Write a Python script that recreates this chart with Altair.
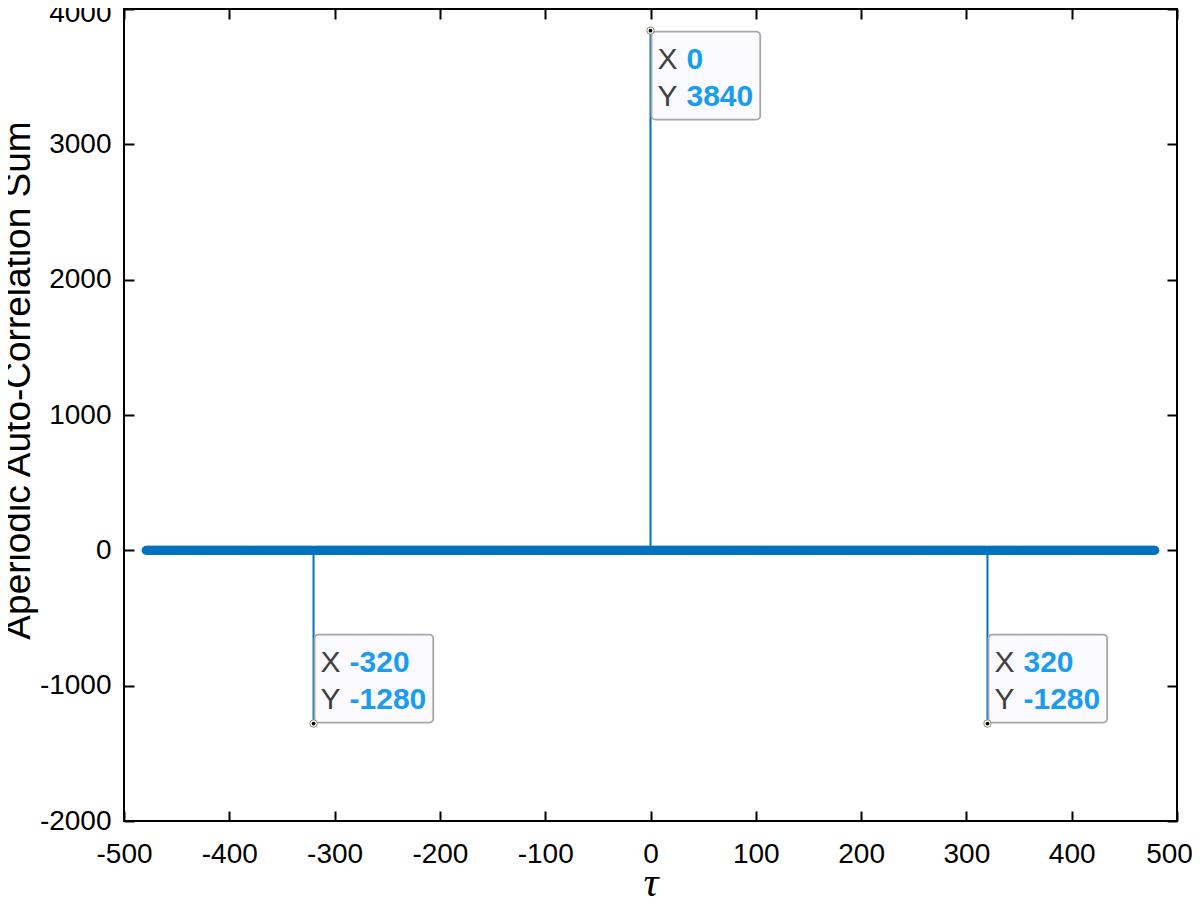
import altair as alt
import pandas as pd

# ---------------- data ----------------
lags = list(range(-479, 480))
tip_lags = [-320, 0, 320]
tip_values = [-1280, 3840, -1280]
peak = dict(zip(tip_lags, tip_values))
values = [peak.get(l, 0) for l in lags]

x_ticks = [-500, -400, -300, -200, -100, 0, 100, 200, 300, 400, 500]
y_ticks = [-2000, -1000, 0, 1000, 2000, 3000, 4000]

X_DOMAIN = [-500, 500]
Y_DOMAIN = [-2000, 4000]

# ---------------- layout / style ----------------
W, H = 1053, 812
BLUE = "#0072BD"
FONT = "Liberation Sans"
TIP_FONT_SIZE = 30
ux = (X_DOMAIN[1] - X_DOMAIN[0]) / W   # data units per pixel
uy = (Y_DOMAIN[1] - Y_DOMAIN[0]) / H

df = pd.DataFrame({"lag": lags, "value": values})


def text_width(s, size):
    w = 0.0
    for ch in s:
        w += 0.333 if ch == "-" else 0.556
    return w * size


boxes, labels, vals, marks = [], [], [], []
for lx, vy in zip(tip_lags, tip_values):
    down = vy > 0
    top_px = 1 if down else -89
    bot_px = top_px + 88
    xs, ys = str(lx), str(vy)
    wpx = 36 + max(text_width(xs, TIP_FONT_SIZE), text_width(ys, TIP_FONT_SIZE)) + 7
    boxes.append({"x1": lx + 1 * ux, "x2": lx + wpx * ux,
                  "y1": vy - top_px * uy, "y2": vy - bot_px * uy})
    r1 = vy - (top_px + 28) * uy
    r2 = vy - (top_px + 65) * uy
    labels.append({"x": lx + 7 * ux, "y": r1, "t": "X"})
    labels.append({"x": lx + 7 * ux, "y": r2, "t": "Y"})
    vals.append({"x": lx + 36 * ux, "y": r1, "t": xs})
    vals.append({"x": lx + 36 * ux, "y": r2, "t": ys})
    marks.append({"x": lx, "y": vy})

boxes_df = pd.DataFrame(boxes)
labels_df = pd.DataFrame(labels)
vals_df = pd.DataFrame(vals)
marks_df = pd.DataFrame(marks)

x_scale = alt.Scale(domain=X_DOMAIN, nice=False, zero=False)
y_scale = alt.Scale(domain=Y_DOMAIN, nice=False, zero=False)

common = dict(offset=-10, tickSize=10, tickWidth=2, tickColor="black",
              domain=False, grid=False, labelFont=FONT, labelFontSize=28,
              labelColor="black", labelExpr="'' + datum.value",
              labelFlush=False, labelOverlap=False)

x_axis_bottom = alt.Axis(
    orient="bottom", values=x_ticks, labelPadding=19,
    labelOffset={"condition": {"test": "datum.value == 500", "value": -8}, "value": 0},
    title="τ", titleFont="Liberation Serif", titleFontStyle="italic",
    titleFontWeight="normal", titleFontSize=42, titleColor="black",
    titlePadding=-6, **common)
y_axis_left = alt.Axis(
    orient="left", values=y_ticks, labelPadding=13,
    labelOffset={"condition": {"test": "datum.value == 4000", "value": 4}, "value": 0},
    title="Aperiodic Auto-Correlation Sum", titleFont=FONT,
    titleFontWeight="normal", titleFontSize=37, titleColor="black",
    titlePadding=2, titleY=371, **common)
x_axis_top = alt.Axis(orient="top", values=x_ticks, labels=False, title=None,
                      offset=-10, tickSize=10, tickWidth=2, tickColor="black",
                      domain=False, grid=False)
y_axis_right = alt.Axis(orient="right", values=y_ticks, labels=False, title=None,
                        offset=-10, tickSize=10, tickWidth=2, tickColor="black",
                        domain=False, grid=False)

stems = alt.Chart(df).mark_rule(color=BLUE, strokeWidth=2).encode(
    x=alt.X("lag:Q", scale=x_scale, axis=x_axis_bottom),
    y=alt.Y("value:Q", scale=y_scale, axis=y_axis_left),
    y2=alt.datum(0),
)

frame = alt.Chart(df).mark_point(opacity=0).encode(
    x=alt.X("lag:Q", scale=x_scale, axis=x_axis_top),
    y=alt.Y("value:Q", scale=y_scale, axis=y_axis_right),
)

dots = alt.Chart(df).transform_filter("datum.value == 0").mark_circle(
    size=80, color=BLUE, opacity=1).encode(
    x=alt.X("lag:Q", scale=x_scale, axis=None),
    y=alt.Y("value:Q", scale=y_scale, axis=None),
)

rects = alt.Chart(boxes_df).mark_rect(
    fill="#fbfbff", stroke="#a6a6a6", strokeWidth=1.8, cornerRadius=4).encode(
    x=alt.X("x1:Q", scale=x_scale, axis=None), x2="x2:Q",
    y=alt.Y("y1:Q", scale=y_scale, axis=None), y2="y2:Q",
)

tip_ring = alt.Chart(marks_df).mark_point(
    shape="circle", filled=True, fill="#ffffff", stroke="#8a8a70",
    strokeWidth=1, size=55, opacity=1).encode(
    x=alt.X("x:Q", scale=x_scale, axis=None),
    y=alt.Y("y:Q", scale=y_scale, axis=None),
)
tip_dot = alt.Chart(marks_df).mark_circle(size=14, color="black", opacity=1).encode(
    x=alt.X("x:Q", scale=x_scale, axis=None),
    y=alt.Y("y:Q", scale=y_scale, axis=None),
)

lab_text = alt.Chart(labels_df).mark_text(
    align="left", baseline="middle", font=FONT, fontSize=TIP_FONT_SIZE,
    color="#404040").encode(
    x=alt.X("x:Q", scale=x_scale, axis=None),
    y=alt.Y("y:Q", scale=y_scale, axis=None),
    text="t:N",
)
val_text = alt.Chart(vals_df).mark_text(
    align="left", baseline="middle", font=FONT, fontSize=TIP_FONT_SIZE,
    fontWeight="bold", color="#1a9cf0").encode(
    x=alt.X("x:Q", scale=x_scale, axis=None),
    y=alt.Y("y:Q", scale=y_scale, axis=None),
    text="t:N",
)

chart = alt.layer(
    stems, frame, dots, rects, tip_ring, tip_dot, lab_text, val_text
).resolve_axis(x="independent", y="independent").properties(
    width=W, height=H,
    autosize=alt.AutoSizeParams(type="none"),
    padding={"left": 116, "top": 1, "right": 15, "bottom": 76},
    background="white",
).configure_view(stroke="black", strokeWidth=2)

chart.save("out.html", embed_options={"renderer": "svg", "actions": False})
